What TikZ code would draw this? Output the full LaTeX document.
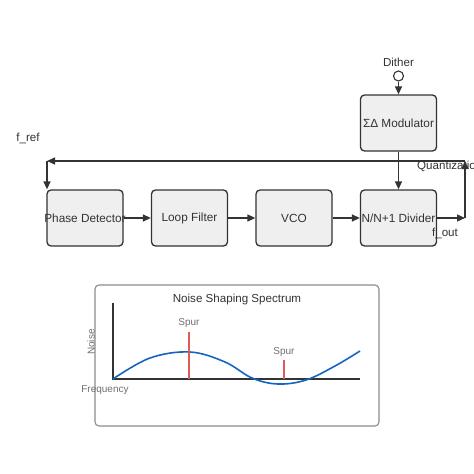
\documentclass[tikz,border=0pt]{standalone}
\usepackage{fontspec}
\setmainfont{Liberation Sans}
\usetikzlibrary{arrows.meta}
\definecolor{boxfill}{HTML}{EFEFEF}
\definecolor{boxline}{HTML}{333333}
\definecolor{txt}{HTML}{333333}
\definecolor{graytxt}{HTML}{707070}
\definecolor{chartline}{HTML}{8C8C8C}
\definecolor{curveblue}{HTML}{1565C0}
\definecolor{spurred}{HTML}{E05A5A}
\tikzset{
  block/.style={draw=boxline, fill=boxfill, line width=1.3pt, rounded corners=4pt,
    minimum width=76pt, minimum height=56pt, inner sep=0pt, text=txt,
    font=\fontsize{11.8}{14}\selectfont},
  conn/.style={draw=boxline, line width=1.3pt, -{Triangle[length=8pt,width=7pt]}},
  lbl/.style={text=txt, font=\fontsize{11.6}{14}\selectfont, inner sep=0pt},
  small/.style={text=graytxt, font=\fontsize{10}{12}\selectfont, inner sep=0pt},
}
\begin{document}
\begin{tikzpicture}[x=1pt,y=-1pt]
\clip (0,0) rectangle (474,474);
\fill[white] (0,0) rectangle (474,474);
% blocks
\node[block] (pd) at (85,218) {\makebox[0pt]{Phase Detector}};
\node[block] (lf) at (189.5,218) {\makebox[0pt]{Loop Filter}};
\node[block] (vco) at (294,218) {\makebox[0pt]{VCO}};
\node[block] (div) at (398.5,218) {\makebox[0pt]{N/N+1 Divider}};
\node[block] (sdm) at (398.5,123) {\makebox[0pt]{ΣΔ Modulator}};
% dither
\node[draw=boxline, line width=1.1pt, circle, minimum size=10pt, inner sep=0pt, fill=white] (dith) at (398.5,76) {};
\node[lbl] (dlbl) at (398.5,62) {Dither};
\draw[conn] (dith) -- (sdm);
\draw[conn] (sdm) -- (div);
% forward chain
\draw[conn] (pd) -- (lf);
\draw[conn] (lf) -- (vco);
\draw[conn] (vco) -- (div);
% feedback
\coordinate (r) at (465,218);
\coordinate (rt) at (465,161);
\coordinate (lt) at (47,161);
\draw[conn] (div) -- (r);
\draw[conn] (r) -- (rt);
\draw[conn] (rt) -- (lt);
\draw[conn] (lt) -- (lt |- pd.north);
% labels
\node[lbl] (fref) at (28,138) {f\_ref};
\node[lbl, anchor=west] (quant) at (417,166) {Quantization};
\node[lbl] (fout) at (445,233) {f\_out};
% chart
\node[draw=chartline, line width=1.1pt, rounded corners=4pt, minimum width=284pt, minimum height=141pt, inner sep=0pt] (chart) at (237,355.5) {};
\node[lbl] (ctitle) at (237,299) {Noise Shaping Spectrum};
\coordinate (o) at (113,379);
\coordinate (ytop) at (113,303);
\coordinate (xend) at (360,379);
\draw[draw=boxline, line width=1.6pt] (ytop) -- (o) -- (xend);
\node[small, rotate=90] (noise) at (91,342) {Noise};
\node[small] (freq) at (105,390) {Frequency};
\draw[curveblue, line width=1.6pt] plot[smooth, tension=0.6] coordinates {(113,379) (150,358) (190,352) (225,362) (252,378) (278,384) (306,380) (335,366) (360,351)};
\coordinate (s1b) at (189,379);
\coordinate (s1t) at (189,332);
\coordinate (s2b) at (284,379);
\coordinate (s2t) at (284,360);
\draw[spurred, line width=1.3pt] (s1b) -- (s1t);
\draw[spurred, line width=1.3pt] (s2b) -- (s2t);
\node[small] (sp1) at (189,323) {Spur};
\node[small] (sp2) at (284,352) {Spur};
\end{tikzpicture}
\end{document}
